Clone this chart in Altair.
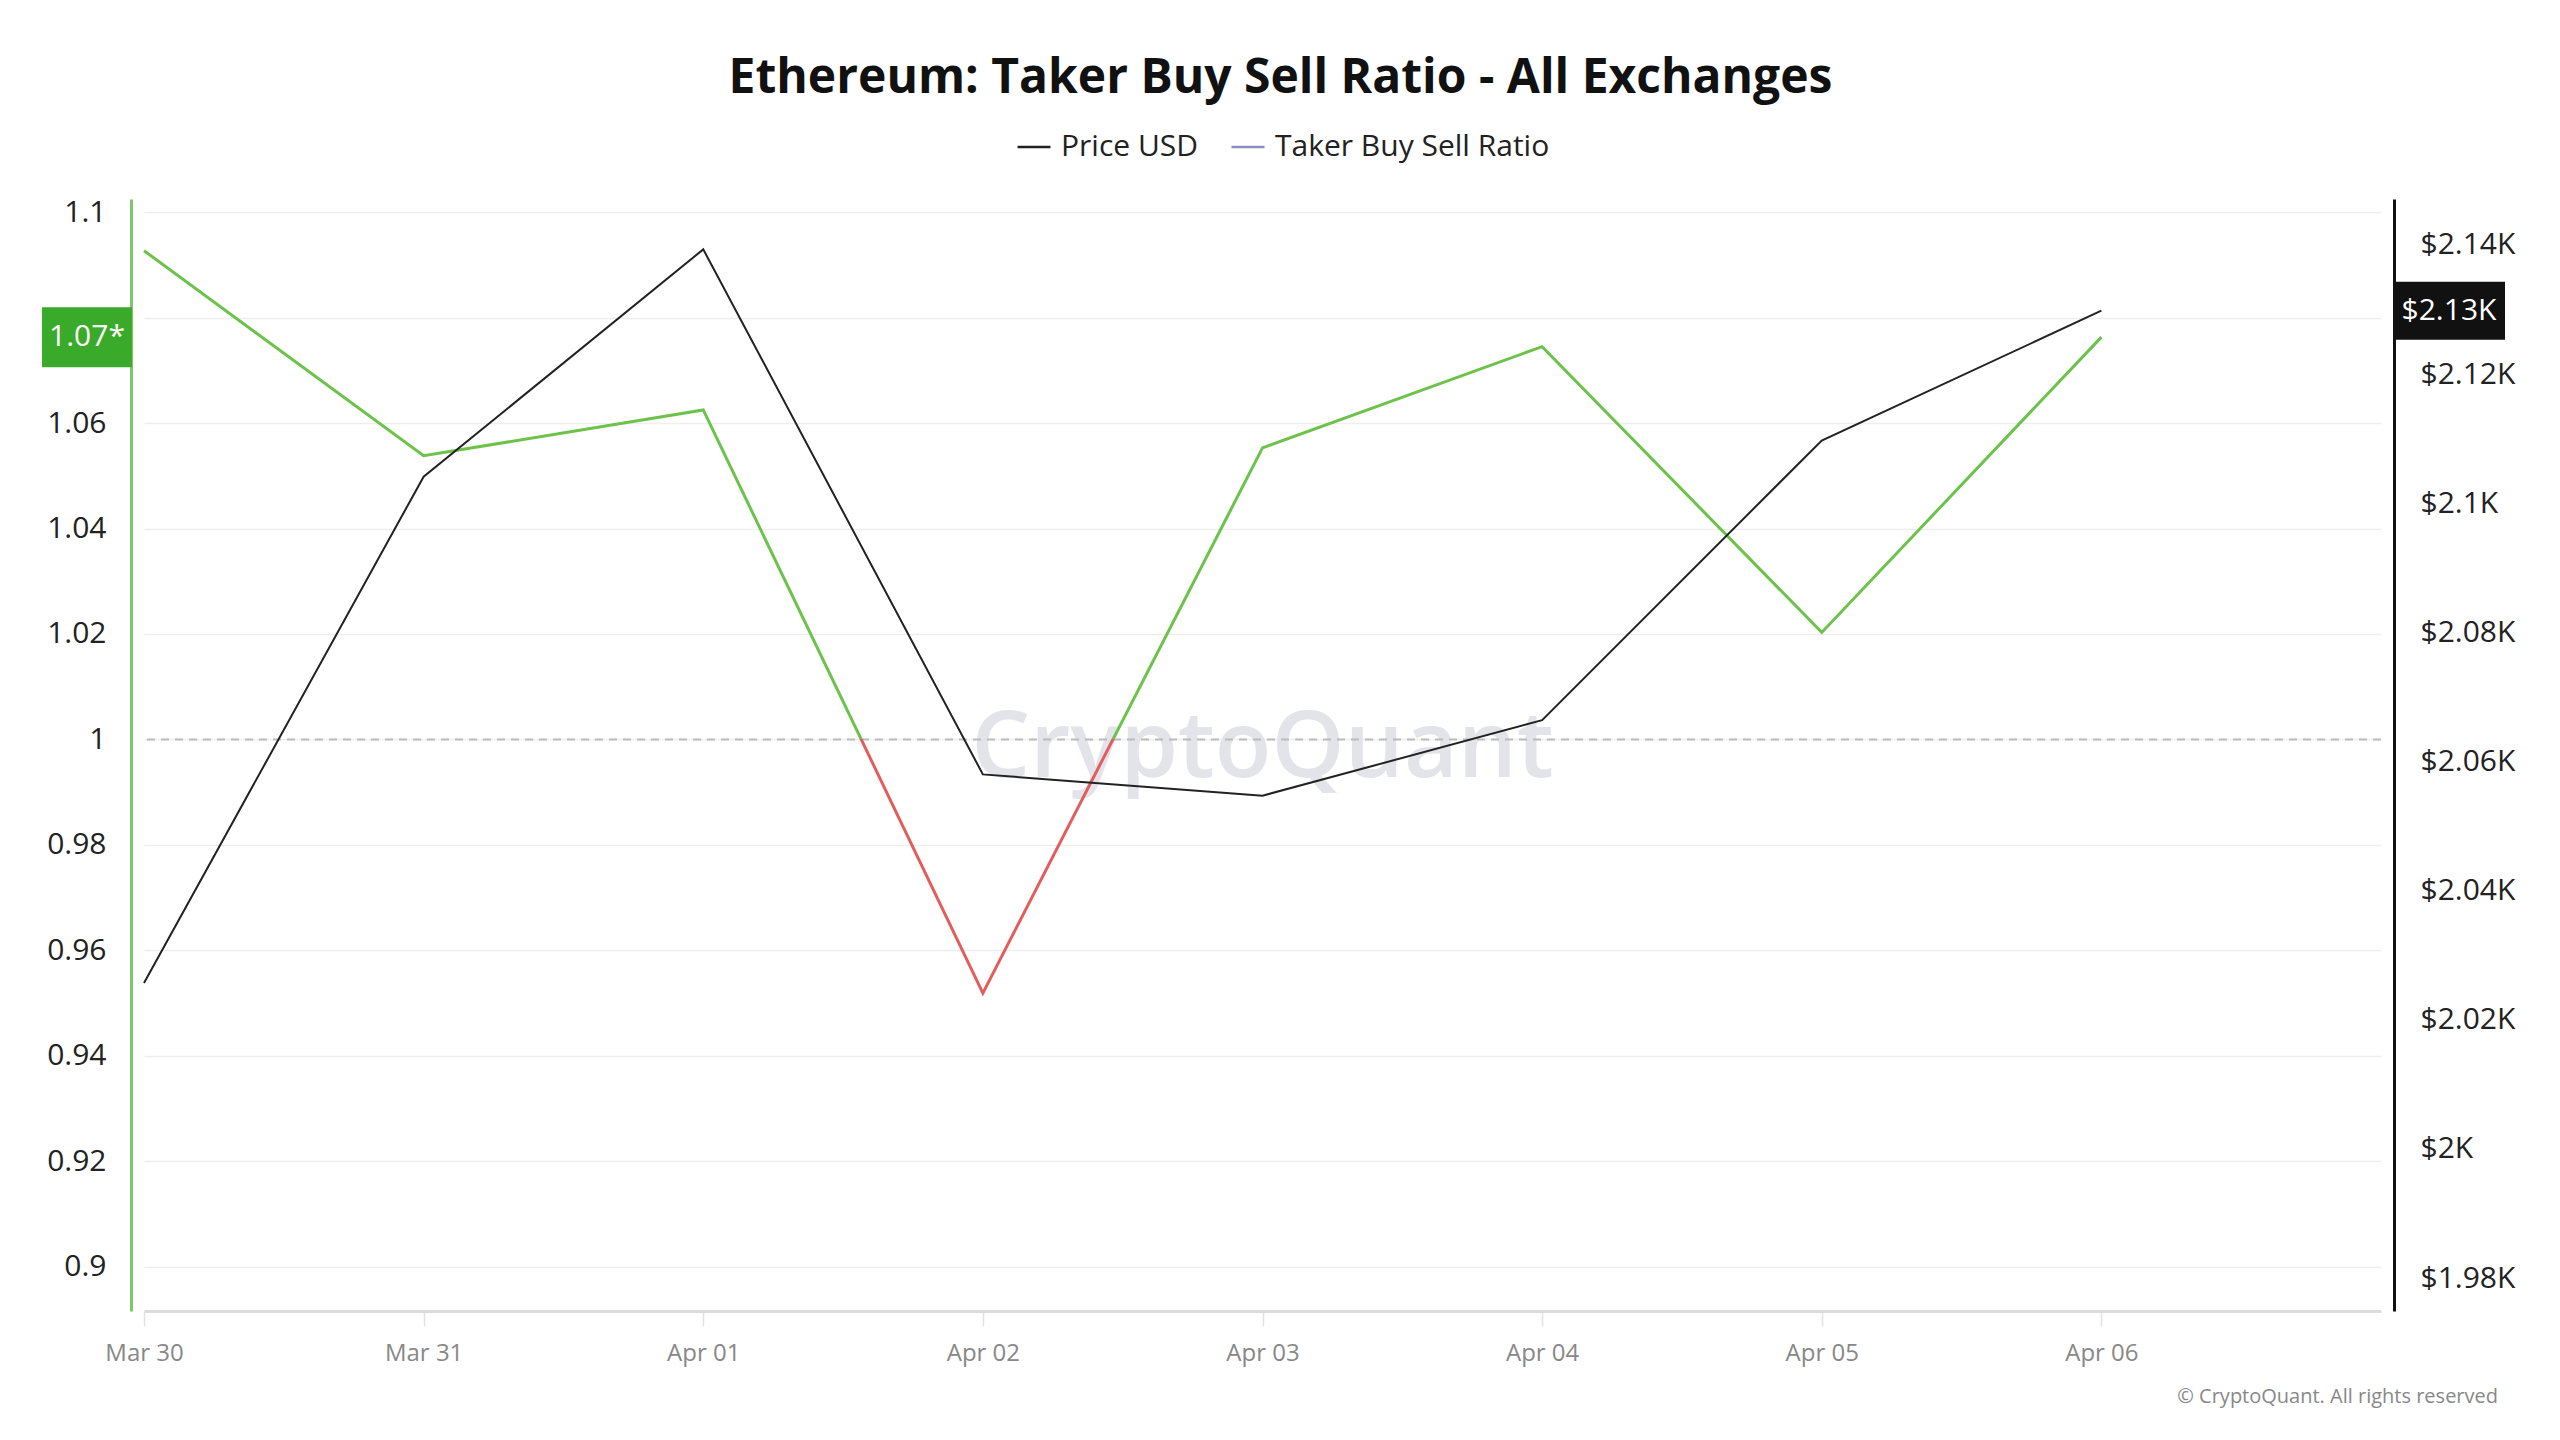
import math
import altair as alt
import pandas as pd

# ---- data ----
dates = ["2025-03-30", "2025-03-31", "2025-04-01", "2025-04-02",
         "2025-04-03", "2025-04-04", "2025-04-05", "2025-04-06"]
ratio = [1.0927, 1.0538, 1.0625, 0.9519, 1.0553, 1.0745, 1.0203, 1.0763]
price = [2025.7, 2104.1, 2139.3, 2058.0, 2054.7, 2066.4, 2109.7, 2129.8]
series_names = ["Price USD", "Taker Buy Sell Ratio"]
ratio_ticks = [0.9, 0.92, 0.94, 0.96, 0.98, 1.0, 1.02, 1.04, 1.06, 1.08, 1.1]
price_ticks = [1980, 2000, 2020, 2040, 2060, 2080, 2100, 2120, 2140]
title_text = "Ethereum: Taker Buy Sell Ratio - All Exchanges"
watermark = "CryptoQuant"
copyright_text = "© CryptoQuant. All rights reserved"

FONT = "Open Sans"
W, H = 2237, 1112
GREEN = "#6cc24a"
RED = "#e35d5d"

df = pd.DataFrame({"date": [d + "T00:00:00" for d in dates],
                   "ratio": ratio, "price": price})
df["series"] = series_names[0]

last_ratio = ratio[-1]
last_price = price[-1]
hidden_tick = round(math.floor(last_ratio * 50 + 0.5) / 50, 2)  # tick covered by the value badge

x_enc = alt.X(
    "date:T",
    title=None,
    scale=alt.Scale(domain=[alt.DateTime(year=2025, month=3, date=30),
                            alt.DateTime(year=2025, month=4, date=7)]),
    axis=alt.Axis(values=[alt.DateTime(year=int(d[:4]), month=int(d[5:7]), date=int(d[8:10])) for d in dates],
                  format="%b %d", grid=False, domainColor="#dcdcdc", domainWidth=3,
                  tickColor="#e2e2e2", tickWidth=1.5, tickSize=15, labelColor="#888888",
                  labelFontSize=24, labelPadding=15, labelFont=FONT, labelFlush=False),
)

y_left = alt.Y(
    "ratio:Q", title=None,
    scale=alt.Scale(domain=[0.8916, 1.1025], nice=False, zero=False),
    axis=alt.Axis(orient="left", values=ratio_ticks, format=".3~g", offset=13,
                  labelExpr=f"abs(datum.value - {hidden_tick}) < 0.001 ? '' : datum.label",
                  domainColor="#7cc868", domainWidth=3, ticks=False,
                  labelFontSize=30, labelColor="#222222", labelPadding=25, labelFont=FONT,
                  grid=True, gridColor="#eeeeee", gridWidth=1.5, zindex=0),
)

y_right = alt.Y(
    "price:Q", title=None,
    scale=alt.Scale(domain=[1974.9, 2147.1], nice=False, zero=False),
    axis=alt.Axis(orient="right", values=price_ticks, offset=13,
                  labelExpr="'$' + format(datum.value / 1000, '.3~f') + 'K'",
                  domainColor="#111111", domainWidth=3, ticks=False,
                  labelFontSize=30, labelColor="#222222", labelPadding=26, labelFont=FONT,
                  grid=False, zindex=0),
)

# gradient split at ratio = 1 (fraction of the line's own vertical extent)
rmax, rmin = max(ratio), min(ratio)
off = (rmax - 1.0) / (rmax - rmin)
grad = alt.LinearGradient(
    gradient="linear", x1=0, y1=0, x2=0, y2=1,
    stops=[alt.GradientStop(color=GREEN, offset=0),
           alt.GradientStop(color=GREEN, offset=off),
           alt.GradientStop(color=RED, offset=off),
           alt.GradientStop(color=RED, offset=1)],
)

base = alt.Chart(df)

wm = alt.Chart(pd.DataFrame({"t": [watermark]})).mark_text(
    font=FONT, fontSize=93, fontWeight=600, color="#e3e3ea", align="center", baseline="middle"
).encode(x=alt.value(W / 2), y=alt.value(H / 2 - 6), text="t:N")

copy = alt.Chart(pd.DataFrame({"t": [copyright_text]})).mark_text(
    font=FONT, fontSize=20, color="#888888", align="right", baseline="middle"
).encode(x=alt.value(W + 117), y=alt.value(H + 86), text="t:N")

one_rule = alt.Chart(pd.DataFrame({"ratio": [1.0]})).mark_rule(
    color="#bbbbbb", strokeDash=[8, 6], strokeWidth=2
).encode(y=y_left)

ratio_line = base.mark_line(color=grad, strokeWidth=3).encode(x=x_enc, y=y_left)

ratio_lab = f"{math.floor(last_ratio * 100) / 100:.2f}*"
lab_l = pd.DataFrame({"ratio": [last_ratio], "t": [ratio_lab]})
box_l = alt.Chart(lab_l).mark_point(
    shape="M-1,-0.667L1,-0.667L1,0.667L-1,0.667Z", size=90 * 90, filled=True,
    color="#3aaa2a", opacity=1, strokeWidth=0
).encode(x=alt.value(-57), y=y_left)
txt_l = alt.Chart(lab_l).mark_text(
    font=FONT, fontSize=30, color="white", align="center", baseline="middle"
).encode(x=alt.value(-57), y=y_left, text="t:N")

left = alt.layer(wm, copy, one_rule, ratio_line, box_l, txt_l)

price_line = base.mark_line(strokeWidth=2).encode(
    x=x_enc, y=y_right,
    color=alt.Color("series:N",
                    scale=alt.Scale(domain=series_names, range=["#222222", "#8e8bbd"]),
                    legend=alt.Legend(orient="none", legendX=872, legendY=-70,
                                      direction="horizontal", title=None,
                                      symbolType="stroke", symbolSize=1089,
                                      symbolStrokeWidth=2.5, labelFontSize=30,
                                      labelFont=FONT, labelColor="#222222", labelLimit=0,
                                      labelOffset=9, columnPadding=28)),
)

price_lab = f"${last_price / 1000:.2f}K"
lab_r = pd.DataFrame({"price": [last_price], "t": [price_lab]})
box_r = alt.Chart(lab_r).mark_point(
    shape="M-1,-0.518L1,-0.518L1,0.518L-1,0.518Z", size=112 * 112, filled=True,
    color="#111111", opacity=1, strokeWidth=0
).encode(x=alt.value(W + 68), y=y_right)
txt_r = alt.Chart(lab_r).mark_text(
    font=FONT, fontSize=30, color="white", align="center", baseline="middle"
).encode(x=alt.value(W + 68), y=y_right, text="t:N")

right = alt.layer(price_line, box_r, txt_r)

chart = alt.layer(left, right).resolve_scale(y="independent").properties(
    width=W, height=H,
    autosize=alt.AutoSizeParams(type="none"),
    padding={"left": 136, "top": 191, "right": 171, "bottom": 121},
    title=alt.TitleParams(title_text, font=FONT, fontSize=48, fontWeight="bold",
                          color="#111111", anchor="middle", offset=26, dx=18),
).configure_view(strokeWidth=0)

chart.save("out.html", embed_options={"renderer": "svg", "actions": False})
